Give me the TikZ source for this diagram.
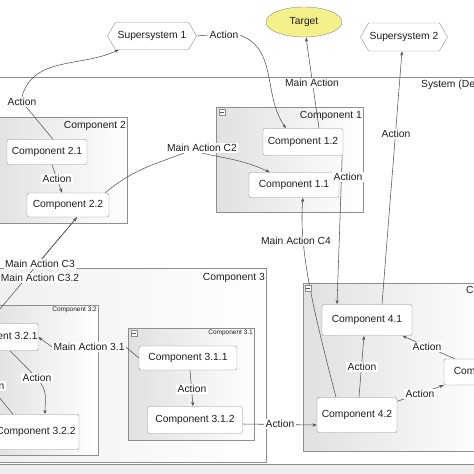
\documentclass[tikz,border=0pt]{standalone}
\usepackage{fontspec}
\setmainfont{Liberation Sans}
\usetikzlibrary{shapes.symbols,shapes.geometric,arrows.meta}
\pgfdeclarelayer{bg}
\pgfdeclarelayer{edges}
\pgfsetlayers{bg,edges,main}
\definecolor{linec}{HTML}{555555}
\definecolor{boxc}{HTML}{8E8E8E}
\definecolor{txt}{HTML}{1E1E1E}
\definecolor{tgt}{HTML}{F4F08A}
\begin{document}
\begin{tikzpicture}[x=1pt,y=-1pt,
  font=\fontsize{10.3}{12}\selectfont,
  comp/.style={draw=boxc, fill=white, rounded corners=2pt, inner sep=0pt, text=txt},
  cont/.style={draw=boxc, inner sep=0pt, anchor=north west, left color=black!12, right color=white},
  lbl/.style={fill=white, inner sep=1.2pt, text=txt},
  conn/.style={draw=linec, line width=0.55pt},
  arr/.style={conn, -{Stealth[length=4.5pt,width=3.2pt]}},
  ttl/.style={inner sep=0pt, text=txt},
  tiny/.style={font=\fontsize{6.5}{8}\selectfont},
  hexa/.style={signal, signal to=west and east, signal pointer angle=120, draw=boxc, fill=white, inner sep=0pt, text=txt},
  mini/.style={draw=boxc, fill=white, minimum size=6pt, inner sep=0pt,
    path picture={\draw[linec] ([xshift=1.2pt]path picture bounding box.west) -- ([xshift=-1.2pt]path picture bounding box.east);}}
]
\clip (0,0) rectangle (474,474);

\begin{pgfonlayer}{bg}
\node[draw=boxc, fill=white, inner sep=0pt, anchor=north west, minimum width=500pt, minimum height=387pt] (sys) at (-10,77) {};
\fill[black!7] (-10,465) rectangle (490,480);
\node[cont, minimum width=147pt, minimum height=105pt] (c1) at (216,107) {};
\node[cont, minimum width=137pt, minimum height=106pt] (c2) at (-10,117) {};
\node[cont, minimum width=276pt, minimum height=194pt, left color=black!6] (c3) at (-10,268) {};
\node[cont, minimum width=108pt, minimum height=150pt] (c32) at (-10,305) {};
\node[cont, minimum width=126pt, minimum height=112pt] (c31) at (128,328) {};
\node[cont, minimum width=187pt, minimum height=168pt] (c4) at (303,283) {};
\end{pgfonlayer}

% icons
\node[mini] (m1) at (222,112) {};
\node[mini] (m31) at (134,333) {};
\node[mini] (m4) at (308,288) {};

% titles
\node[ttl, anchor=west] (tsys) at (421,85) {System (Design)};
\node[ttl, anchor=east] (t1) at (362,116) {Component 1};
\node[ttl, anchor=east] (t2) at (126,126) {Component 2};
\node[ttl, anchor=east] (t3) at (265,278) {Component 3};
\node[ttl, anchor=east, tiny] (t32) at (97,310) {Component 3.2};
\node[ttl, anchor=east, tiny] (t31) at (253,333) {Component 3.1};
\node[ttl, anchor=west] (t4) at (466,291) {Component 4};

% outside
\node[hexa, minimum width=89pt, minimum height=27pt] (ss1) at (152,36) {Supersystem 1};
\node[hexa, minimum width=87pt, minimum height=28pt] (ss2) at (404,37) {Supersystem 2};
\node[ellipse, draw=boxc, fill=tgt, minimum width=76pt, minimum height=30pt, inner sep=0pt, text=txt] (tg) at (304,22) {Target};

% components
\node[comp, minimum width=80pt, minimum height=27pt] (c12) at (303,142) {Component 1.2};
\node[comp, minimum width=90pt, minimum height=25pt] (c11) at (294,185) {Component 1.1};
\node[comp, minimum width=80pt, minimum height=25pt] (c21) at (47,152) {Component 2.1};
\node[comp, minimum width=82pt, minimum height=24pt] (c22) at (68,205) {Component 2.2};
\node[comp, minimum width=80pt, minimum height=27pt] (c321) at (-2,337) {Component 3.2.1};
\node[comp, minimum width=86pt, minimum height=35pt] (c322) at (36,432) {Component 3.2.2};
\node[comp, minimum width=98pt, minimum height=24pt] (c311) at (188,358) {Component 3.1.1};
\node[comp, minimum width=95pt, minimum height=27pt] (c312) at (195,420) {Component 3.1.2};
\node[comp, minimum width=90pt, minimum height=31pt] (c41) at (367,320) {Component 4.1};
\node[comp, minimum width=80pt, minimum height=35pt] (c42) at (357,415) {Component 4.2};
\node[comp, minimum width=90pt, minimum height=26pt] (c43) at (489,372) {Component 4.3};

% labels
\node[lbl] (la1) at (224,35) {Action};
\node[lbl] (lma) at (312,83) {Main Action};
\node[lbl] (la2) at (396,134) {Action};
\node[lbl] (lac2) at (202,148) {Main Action C2};
\node[lbl] (la12) at (348,177) {Action};
\node[lbl] (la21) at (22,102) {Action};
\node[lbl] (la2122) at (57,179) {Action};
\node[lbl] (lmc3) at (40,264) {Main Action C3};
\node[lbl] (lmc32) at (40,278) {Main Action C3.2};
\node[lbl] (lmc4) at (296,241) {Main Action C4};
\node[lbl] (lm31) at (89,347) {Main Action 3.1};
\node[lbl] (la3132) at (192,389) {Action};
\node[lbl] (la3242) at (280,424) {Action};
\node[lbl] (la4241) at (362,367) {Action};
\node[lbl] (la4341) at (427,347) {Action};
\node[lbl] (la4243) at (420,394) {Action};
\node[lbl] (la321) at (37,378) {Action};
\node[lbl] (la322) at (-10,386) {Action};

\begin{pgfonlayer}{edges}
% 2.1 -> Supersystem 1
\draw[conn] ([xshift=6pt]c21.north) -- (la21);
\draw[arr] (la21.north) to[out=75,in=205] ([xshift=-33pt]ss1.south);
% Supersystem 1 -> 1.2
\draw[conn] (ss1.east) -- (la1.west);
\draw[arr] (la1.east) to[out=-20,in=125] ([xshift=-17pt]c12.north);
% 1.2 -> Target
\draw[arr] ([xshift=16pt]c12.north) -- ([xshift=2pt]tg.south);
% 4.1 -> Supersystem 2
\draw[arr] ([xshift=15pt]c41.north) -- ([xshift=-2pt]ss2.south);
% 2.2 -> 1.1
\draw[conn] ([xshift=-4pt]c22.north east) to[out=40,in=200] ([xshift=-18pt]lac2.south);
\draw[arr] (lac2.south) to[out=-12,in=155] ([xshift=-24pt]c11.north);
% 2.1 -> 2.2
\draw[arr] ([xshift=5pt]c21.south) -- ([xshift=-6pt]c22.north);
% 1.2 -> 4.1
\draw[arr] ([xshift=-1pt]c12.south east) -- ([xshift=-30pt]c41.north);
% 4.2 -> 1.1
\draw[arr] ([xshift=-21pt]c42.north) .. controls (316,320) and (298,250) .. ([xshift=9pt]c11.south);
% C3 / C3.2 -> 2.2
\draw[arr] ([xshift=-10pt]c321.north) -- ([xshift=9pt]c22.south);
\draw[conn] ([xshift=44pt]c3.north west) -- ([xshift=9pt]c22.south);
% 3.1.1 -> 3.2.1
\draw[conn] (c311.west) -- (lm31.east);
\draw[arr] (lm31.west) -- (c321.east);
% 3.1.1 -> 3.1.2
\draw[arr] ([xshift=2pt]c311.south) -- ([xshift=-2pt]c312.north);
% 3.1.2 -> 4.2
\draw[arr] ([yshift=-4pt]c312.east) -- ([yshift=-10pt]c42.west);
% 4.2 -> 4.1
\draw[arr] ([xshift=2pt]c42.north) -- ([xshift=-3pt]c41.south);
% 4.3 -> 4.1
\draw[arr] ([xshift=11pt]c43.north west) -- ([xshift=-10pt]c41.south east);
% 4.2 -> 4.3
\draw[arr] ([yshift=-4pt]c42.north east) -- (c43.south west);
% 3.2.1 -> 3.2.2
\draw[conn] ([xshift=12pt]c321.south) -- (la321);
\draw[arr] (la321) to[out=-55,in=90] ([xshift=9pt]c322.north);
% 3.2.2 -> 3.2.1 (left)
\draw[conn] ([xshift=-23pt]c322.north) -- (la322);
\draw[arr] (la322) -- ([xshift=-30pt]c321.south);
\end{pgfonlayer}
\end{tikzpicture}
\end{document}
